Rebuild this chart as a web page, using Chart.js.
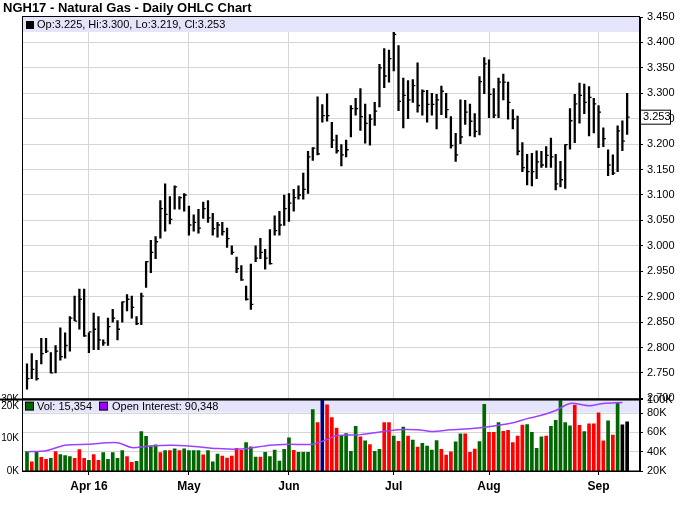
<!DOCTYPE html>
<html><head><meta charset="utf-8">
<script src="https://cdn.jsdelivr.net/npm/chart.js@4"></script>
<style>
body{margin:0;background:#fff;width:700px;height:512px;overflow:hidden;position:relative}
#wp{position:absolute;left:0;top:0;width:700px;height:409px}
#wv{position:absolute;left:0;top:389px;width:700px;height:123px}
</style></head><body>
<div id="wp"><canvas id="cp"></canvas></div>
<div id="wv"><canvas id="cv"></canvas></div>
<script>
// ---- data ----
const monthIdx = [13, 34, 55, 77, 97, 120];
const monthLabels = ['Apr 16', 'May', 'Jun', 'Jul', 'Aug', 'Sep'];
const highs = [2.768,2.788,2.775,2.818,2.818,2.790,2.804,2.839,2.829,2.861,2.901,2.915,2.915,2.829,2.868,2.861,2.815,2.858,2.875,2.853,2.890,2.904,2.901,2.861,2.907,2.969,3.011,3.018,3.089,3.122,3.097,3.118,3.097,3.103,3.078,3.061,3.072,3.086,3.089,3.064,3.046,3.046,3.035,3.000,2.978,2.961,2.921,2.964,3.000,3.015,2.993,3.032,3.059,3.068,3.100,3.103,3.111,3.118,3.143,3.186,3.193,3.293,3.278,3.299,3.243,3.218,3.199,3.208,3.276,3.290,3.309,3.279,3.258,3.282,3.357,3.388,3.385,3.420,3.394,3.330,3.325,3.327,3.360,3.307,3.306,3.300,3.298,3.314,3.300,3.254,3.221,3.287,3.286,3.279,3.260,3.333,3.370,3.366,3.309,3.330,3.338,3.322,3.268,3.255,3.203,3.180,3.182,3.187,3.186,3.195,3.212,3.180,3.166,3.199,3.270,3.298,3.320,3.318,3.313,3.290,3.276,3.232,3.189,3.179,3.236,3.246,3.300];
const lows = [2.718,2.739,2.736,2.768,2.790,2.750,2.750,2.775,2.779,2.793,2.853,2.836,2.822,2.790,2.796,2.796,2.804,2.804,2.850,2.815,2.850,2.872,2.858,2.845,2.845,2.918,2.947,2.975,3.015,3.029,3.043,3.072,3.072,3.068,3.021,3.029,3.025,3.054,3.046,3.021,3.017,3.021,2.997,2.983,2.947,2.932,2.893,2.875,2.969,2.975,2.954,2.964,3.021,3.021,3.040,3.048,3.068,3.092,3.092,3.103,3.168,3.179,3.243,3.245,3.193,3.182,3.157,3.175,3.214,3.257,3.227,3.202,3.198,3.237,3.273,3.311,3.322,3.344,3.266,3.232,3.250,3.282,3.263,3.257,3.243,3.257,3.230,3.258,3.252,3.192,3.166,3.201,3.239,3.216,3.214,3.218,3.299,3.252,3.252,3.252,3.287,3.249,3.230,3.179,3.146,3.120,3.118,3.132,3.154,3.154,3.154,3.110,3.116,3.113,3.190,3.203,3.241,3.260,3.216,3.222,3.193,3.195,3.138,3.140,3.146,3.187,3.219];
const closes = [2.739,2.757,2.739,2.788,2.793,2.750,2.793,2.782,2.804,2.858,2.852,2.895,2.823,2.831,2.836,2.815,2.809,2.841,2.858,2.836,2.890,2.895,2.879,2.847,2.901,2.969,2.987,3.008,3.073,3.062,3.052,3.116,3.095,3.100,3.041,3.046,3.035,3.073,3.055,3.034,3.041,3.028,3.014,2.987,2.955,2.933,2.895,2.885,2.976,2.987,2.976,2.965,3.030,3.041,3.073,3.084,3.095,3.100,3.111,3.175,3.192,3.181,3.256,3.256,3.208,3.187,3.179,3.189,3.270,3.270,3.254,3.241,3.249,3.265,3.350,3.334,3.368,3.416,3.284,3.296,3.287,3.315,3.276,3.304,3.278,3.278,3.287,3.304,3.268,3.197,3.179,3.214,3.263,3.245,3.225,3.323,3.358,3.298,3.257,3.322,3.322,3.282,3.249,3.186,3.154,3.146,3.146,3.165,3.159,3.178,3.175,3.122,3.130,3.199,3.246,3.279,3.296,3.282,3.292,3.279,3.263,3.211,3.159,3.143,3.226,3.206,3.253];
const volumes = [6.0,2.8,6.0,4.2,3.6,3.9,6.0,5.1,4.8,4.5,3.9,6.6,3.9,3.3,5.1,3.3,5.7,3.6,5.7,3.9,6.3,4.5,2.7,3.0,12.2,10.7,7.8,8.1,5.7,6.3,6.3,6.9,6.3,6.9,6.3,6.3,
 6.3,5.0,6.3,2.8,5.2,4.6,4.0,4.6,7.0,6.4,8.8,7.5,4.3,4.3,5.8,4.5,6.5,3.1,6.7,10.3,6.4,5.8,5.8,
 5.8,19,15,23.5,20.5,16.5,13.3,11,11.6,6.1,13.8,10.6,9.3,8.2,6.1,6.7,15,15,10.8,9.2,13.6,10.8,9.6,7.4,8.6,7.7,6.5,9.4,6.7,4.9,5.9,9.0,11.5,11.5,5.8,6.8,9.1,20.6,
 12,12,15,12.3,12.6,8.8,10.8,14.2,14.4,12,7,10.6,10.8,13.8,15.7,21.8,15,14,20.4,14.1,12.2,14.6,14.6,18,9.3,15.5,11.1,21.2,14.3,15.2];
const volColors = 'grgrrgrgggrrrgrrgggggrrgggggrgrgrgg'+'ggrgggrrrrrgggrggggggrg'+'gggrnrrrggggrgrggrrgrgrgrggggrrrggrrrg'+'grrgrrrrrggggrgggggrrgrrrrgrg';
const oiIdx = [0,4,8,13,19,22,25,30,34,40,45,51,55,60,63,65,70,78,82,85,89,94,98,102,105,108,111,114,118,121,125];
const oiVals = [40,41,46.7,47.7,49.3,44.3,45.5,46.7,46,43.3,42.7,46.7,47.7,47.7,52.7,56.7,57.7,62.7,62.7,61,62.7,64.3,66.7,70,74.3,77.7,82.7,90,87.7,90,91];
const priceTicks = [3.45,3.40,3.35,3.30,3.25,3.20,3.15,3.10,3.05,3.00,2.95,2.90,2.85,2.80,2.75,2.70];

const XMIN=-1.05, XMAX=128.7;
const FONT='"Liberation Sans", Arial, sans-serif';
const GRID='#d6d6d6';
const colMap={g:'#006600',r:'#ff0000',n:'#000080'};
const idx = closes.map((_,i)=>i);
const monthTicks = s => { s.ticks = monthIdx.map(v=>({value:v})); };

const priceDecor = {
  id:'priceDecor',
  beforeDatasetsDraw(c){
    const {ctx,chartArea:a}=c;
    ctx.save();
    ctx.fillStyle='#e4e4fa'; ctx.fillRect(a.left,a.top,a.right-a.left,15);
    ctx.fillStyle='#000'; ctx.fillRect(a.left+4,a.top+4,8,8);
    ctx.font='11px '+FONT; ctx.textBaseline='middle';
    ctx.fillText('Op:3.225, Hi:3.300, Lo:3.219, Cl:3.253', a.left+15, a.top+8);
    ctx.restore();
  },
  afterDraw(c){
    const {ctx,chartArea:a}=c;
    ctx.save();
    ctx.font='bold 13px '+FONT; ctx.fillStyle='#000'; ctx.textBaseline='middle';
    ctx.fillText('NGH17 - Natural Gas - Daily OHLC Chart', 3, 8);
    ctx.strokeStyle='#000'; ctx.lineWidth=1;
    ctx.strokeRect(a.left+0.5,a.top-0.5,a.right-a.left-1,a.bottom-a.top+1);
    const y=c.scales.y.getPixelForValue(closes[closes.length-1]);
    ctx.fillStyle='#fff'; ctx.fillRect(a.right+1,y-7,30,14);
    ctx.strokeRect(a.right+0.5,y-7,30,14);
    ctx.fillStyle='#000'; ctx.font='11px '+FONT; ctx.textAlign='left';
    ctx.fillText(closes[closes.length-1].toFixed(3), a.right+3, y);
    ctx.restore();
  }
};

new Chart(document.getElementById('cp'),{
  type:'bar',
  data:{datasets:[
    {type:'bar',data:idx.map(i=>({x:i,y:[lows[i],highs[i]]})),backgroundColor:'#000',barThickness:1.6,grouped:false},
    {type:'scatter',data:idx.map(i=>({x:i,y:closes[i]})),pointStyle:'dash',radius:2.5,borderColor:'#000',borderWidth:1.3,backgroundColor:'#000'}
  ]},
  options:{responsive:true,maintainAspectRatio:false,animation:false,
    layout:{padding:{left:22,top:17,bottom:0,right:0}},
    plugins:{legend:{display:false},tooltip:{enabled:false}},
    scales:{
      x:{type:'linear',offset:false,min:XMIN,max:XMAX,afterBuildTicks:monthTicks,ticks:{display:false},grid:{offset:false,color:GRID,drawTicks:false},border:{display:false},afterFit:s=>{s.height=0;}},
      y:{position:'right',min:2.70,max:3.45,afterBuildTicks:s=>{s.ticks=priceTicks.map(v=>({value:v}));},
         ticks:{color:'#000',font:{family:FONT,size:11},padding:4,callback:v=>v.toFixed(3)},
         grid:{color:GRID,tickLength:3,tickColor:'#000'},border:{color:'#000'},afterFit:s=>{s.width=60;}}
    }},
  plugins:[priceDecor]
});

const volDecor = {
  id:'volDecor',
  beforeDatasetsDraw(c){
    const {ctx,chartArea:a}=c;
    ctx.save();
    ctx.fillStyle='#e4e4fa'; ctx.fillRect(a.left,a.top,a.right-a.left,13);
    ctx.font='11px '+FONT; ctx.textBaseline='middle';
    ctx.fillStyle='#000'; ctx.fillRect(a.left+3,a.top+2,9,9);
    ctx.fillStyle='#006600'; ctx.fillRect(a.left+4,a.top+3,7,7);
    ctx.fillStyle='#000'; ctx.fillText('Vol: 15,354', a.left+15, a.top+7);
    ctx.fillStyle='#000'; ctx.fillRect(a.left+77,a.top+2,9,9);
    ctx.fillStyle='#9900ff'; ctx.fillRect(a.left+78,a.top+3,7,7);
    ctx.fillStyle='#000'; ctx.fillText('Open Interest: 90,348', a.left+90, a.top+7);
    ctx.restore();
  },
  afterDraw(c){
    const {ctx,chartArea:a}=c;
    ctx.save(); ctx.strokeStyle='#000';
    ctx.lineWidth=1; ctx.strokeRect(a.left+0.5,a.top,a.right-a.left-1,a.bottom-a.top);
    ctx.lineWidth=2; ctx.beginPath(); ctx.moveTo(0,a.top); ctx.lineTo(a.right,a.top); ctx.stroke();
    ctx.restore();
  }
};

new Chart(document.getElementById('cv'),{
  type:'bar',
  data:{datasets:[
    {type:'line',yAxisID:'oi',data:oiIdx.map((x,k)=>({x,y:oiVals[k]*1000})),borderColor:'#a040ff',borderWidth:1.5,pointRadius:0,tension:0.3},
    {type:'bar',yAxisID:'y',data:idx.map(i=>({x:i,y:volumes[i]*1000})),backgroundColor:idx.map(i=>colMap[volColors[i]]),barThickness:3,grouped:false}
  ]},
  options:{responsive:true,maintainAspectRatio:false,animation:false,
    layout:{padding:{left:0,top:8,bottom:0,right:0}},
    plugins:{legend:{display:false},tooltip:{enabled:false}},
    scales:{
      x:{type:'linear',offset:false,min:XMIN,max:XMAX,afterBuildTicks:monthTicks,
         ticks:{color:'#000',font:{family:FONT,size:12,weight:'bold'},padding:4,autoSkip:false,maxRotation:0,callback:v=>monthLabels[monthIdx.indexOf(v)]},
         grid:{offset:false,color:GRID,tickLength:4,tickColor:'#000'},border:{color:'#000'},afterFit:s=>{s.height=41;}},
      y:{position:'left',min:0,max:22100,afterBuildTicks:s=>{s.ticks=[0,10000,20000,22100].map(v=>({value:v}));},
         ticks:{color:'#000',font:{family:FONT,size:10},padding:1,callback:v=>v>21000?'30K':(v/1000)+'K'},
         grid:{display:false,tickLength:2},border:{color:'#000'},afterFit:s=>{s.width=22;}},
      oi:{position:'right',min:20000,max:94000,afterBuildTicks:s=>{s.ticks=[20000,40000,60000,80000,94000].map(v=>({value:v}));},
         ticks:{color:'#000',font:{family:FONT,size:11},padding:4,callback:v=>v>90000?'100K':(v/1000)+'K'},
         grid:{color:GRID,tickLength:3,tickColor:'#000'},border:{color:'#000'},afterFit:s=>{s.width=60;}}
    }},
  plugins:[volDecor]
});
</script></body></html>
